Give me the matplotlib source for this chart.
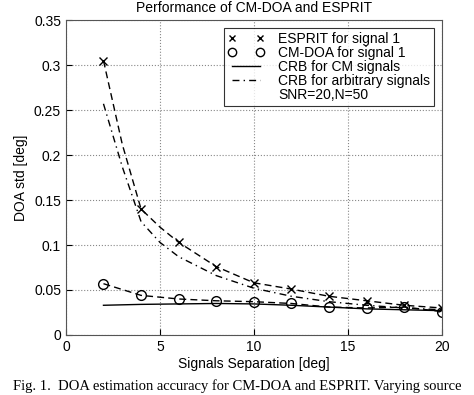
import matplotlib

matplotlib.use("Agg")
import matplotlib.pyplot as plt
from matplotlib.lines import Line2D

# markers sit on even separations; odd ones only shape the curves
separation = [2, 3, 4, 5, 6, 8, 10, 12, 14, 16, 18, 20]
esprit_std = [0.305, 0.212, 0.140, 0.120, 0.103, 0.076, 0.058, 0.051, 0.043, 0.038, 0.033, 0.030]
crb_arb = [0.257, 0.187, 0.126, 0.103, 0.087, 0.066, 0.052, 0.043, 0.037, 0.033, 0.030, 0.028]

marker_sep = [2, 4, 6, 8, 10, 12, 14, 16, 18, 20]
cmdoa_std = [0.057, 0.044, 0.040, 0.038, 0.037, 0.035, 0.031, 0.030, 0.031, 0.026]
crb_cm = [0.033, 0.034, 0.0345, 0.035, 0.0345, 0.033, 0.031, 0.029, 0.028, 0.027]

xticks = [0, 5, 10, 15, 20]
yticks = [0, 0.05, 0.1, 0.15, 0.2, 0.25, 0.3, 0.35]
ytick_labels = ["0", "0.05", "0.1", "0.15", "0.2", "0.25", "0.3", "0.35"]

plt.rcParams["font.family"] = ["Liberation Sans", "DejaVu Sans"]

fig = plt.figure(figsize=(4.74, 3.95), dpi=100)
ax = fig.add_axes([0.139, 0.152, 0.793, 0.797])

even_idx = [i for i, s in enumerate(separation) if s in marker_sep]

ax.plot(marker_sep, crb_cm, "-", color="black", linewidth=1.0)
ax.plot(separation, crb_arb, "-.", color="black", linewidth=1.0, dashes=(5, 3, 1, 3))
ax.plot(separation, esprit_std, "--", color="black", linewidth=1.0, dashes=(5, 3),
        marker="x", markevery=even_idx, markersize=6, markeredgewidth=1.0)
ax.plot(marker_sep, cmdoa_std, "--", color="black", linewidth=1.0, dashes=(5, 3),
        marker="o", markersize=7, markerfacecolor="none", markeredgewidth=1.0)

ax.set_xlim(0, 20)
ax.set_ylim(0, 0.35)
ax.set_xticks(xticks)
ax.set_yticks(yticks)
ax.set_yticklabels(ytick_labels)
ax.tick_params(direction="in", length=4, labelsize=10, color="black")
ax.grid(True, linestyle=":", color="#888888", linewidth=0.8)
for spine in ax.spines.values():
    spine.set_color("#555555")
    spine.set_linewidth(0.8)

ax.set_xlabel("Signals Separation [deg]", fontsize=10, labelpad=2)
ax.set_ylabel("DOA std [deg]", fontsize=10, labelpad=4)
ax.set_title("Performance of CM-DOA and ESPRIT", fontsize=10, pad=6)

handles = [
    Line2D([0], [0], linestyle="none", marker="x", color="black", markersize=5),
    Line2D([0], [0], linestyle="none", marker="o", color="black", markerfacecolor="none", markersize=6),
    Line2D([0], [0], linestyle="-", color="black", linewidth=1.0),
    Line2D([0], [0], linestyle="-.", color="black", linewidth=1.0, dashes=(5, 3, 1, 3)),
    Line2D([0], [0], linestyle="none"),
]
labels = [
    "ESPRIT for signal 1",
    "CM-DOA for signal 1",
    "CRB for CM signals",
    "CRB for arbitrary signals",
    "SNR=20,N=50",
]
leg = ax.legend(handles, labels, loc="upper right", bbox_to_anchor=(0.98, 0.975),
                fontsize=10, frameon=True, fancybox=False, edgecolor="black",
                numpoints=2, handlelength=2.6, handletextpad=1.0, labelspacing=0.0,
                borderpad=0.3, borderaxespad=0.0)
leg.get_frame().set_linewidth(0.8)

fig.text(0.5, 0.004, "Fig. 1.  DOA estimation accuracy for CM-DOA and ESPRIT. Varying source",
         family="Liberation Serif", fontsize=10.5, va="bottom", ha="center")

fig.savefig("out.png", dpi=100)
